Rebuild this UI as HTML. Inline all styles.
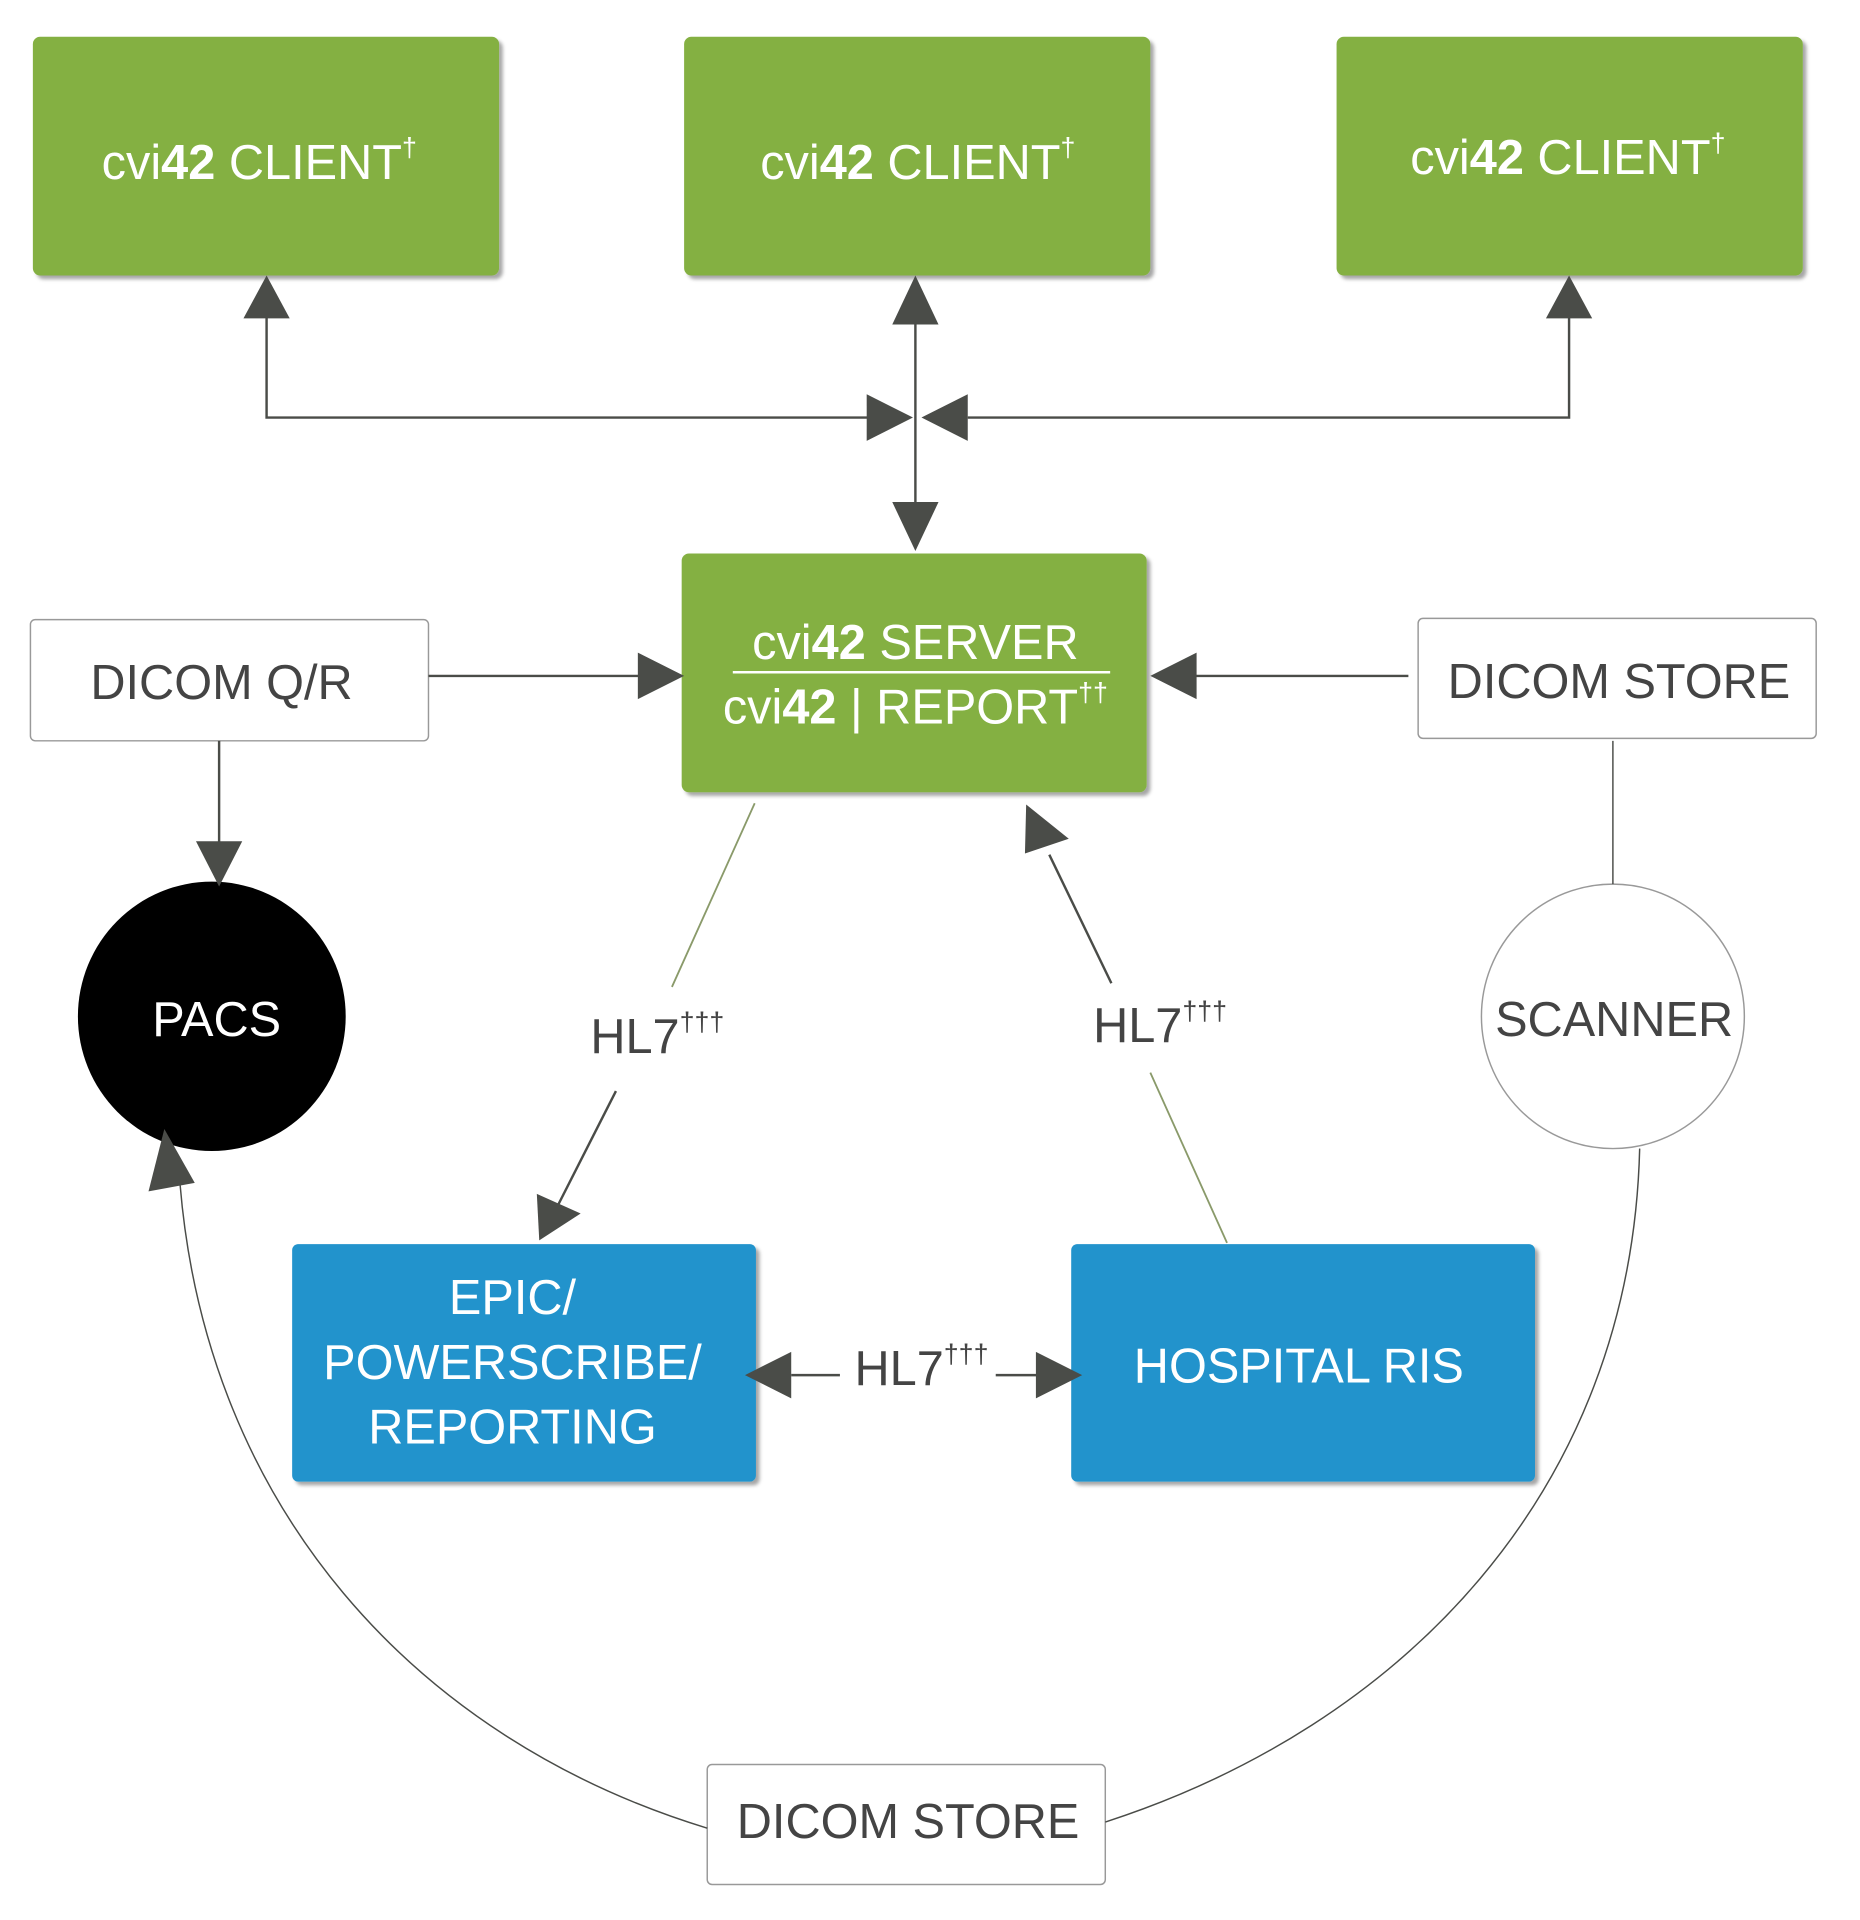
<!DOCTYPE html>
<html><head><meta charset="utf-8"><style>html,body{margin:0;padding:0;background:#fff}svg{display:block}</style></head>
<body>
<svg width="1860" height="1920" viewBox="0 0 1528 1568" preserveAspectRatio="none" xmlns="http://www.w3.org/2000/svg" font-family="Liberation Sans, sans-serif">
<defs>
<filter id="sh" x="-5%" y="-5%" width="115%" height="115%"><feDropShadow dx="3" dy="3" stdDeviation="1.5" flood-color="#000" flood-opacity="0.35"/></filter>
</defs>
<g fill="#84b042" filter="url(#sh)">
<rect x="27" y="30" width="383" height="195" rx="6"/>
<rect x="562" y="30" width="383" height="195" rx="6"/>
<rect x="1098" y="30" width="383" height="195" rx="6"/>
<rect x="560" y="452" width="382" height="195" rx="6"/>
</g>
<g fill="#2193cc" filter="url(#sh)">
<rect x="240" y="1016" width="381" height="194" rx="5"/>
<rect x="880" y="1016" width="381" height="194" rx="5"/>
</g>
<g fill="#fff" font-size="40" text-anchor="middle">
<text x="213" y="146">cvi<tspan font-weight="bold">42</tspan> CLIENT<tspan font-size="22" dy="-18">†</tspan></text>
<text x="754" y="146">cvi<tspan font-weight="bold">42</tspan> CLIENT<tspan font-size="22" dy="-18">†</tspan></text>
<text x="1288" y="142">cvi<tspan font-weight="bold">42</tspan> CLIENT<tspan font-size="22" dy="-18">†</tspan></text>
<text x="752" y="538">cvi<tspan font-weight="bold">42</tspan> SERVER</text>
<text x="752" y="591">cvi<tspan font-weight="bold">42</tspan> | REPORT<tspan font-size="22" dy="-18">††</tspan></text>
<text x="421" y="1073">EPIC/</text>
<text x="421" y="1126">POWERSCRIBE/</text>
<text x="421" y="1179">REPORTING</text>
<text x="1067" y="1129">HOSPITAL RIS</text>
</g>
<line x1="602" y1="549" x2="912" y2="549" stroke="#fff" stroke-width="2"/>
<g fill="#fff" stroke="#999" stroke-width="1.2">
<rect x="25" y="506" width="327" height="99" rx="4"/>
<rect x="1165" y="505" width="327" height="98" rx="4"/>
<rect x="581" y="1441" width="327" height="98" rx="4"/>
<circle cx="1325" cy="830" r="108"/>
</g>
<circle cx="174" cy="830" r="110" fill="#000"/>
<g fill="#444" font-size="40" text-anchor="middle">
<text x="182" y="571">DICOM Q/R</text>
<text x="1330" y="570">DICOM STORE</text>
<text x="746" y="1501">DICOM STORE</text>
<text x="1326" y="846">SCANNER</text>
<text x="540" y="860">HL7<tspan font-size="22" dy="-18">†††</tspan></text>
<text x="953" y="851">HL7<tspan font-size="22" dy="-18">†††</tspan></text>
<text x="757" y="1131">HL7<tspan font-size="22" dy="-18">†††</tspan></text>
</g>
<text x="178" y="846" fill="#fff" font-size="40" text-anchor="middle">PACS</text>
<g stroke="#4a4c48" stroke-width="2" fill="none">
<polyline points="219,258 219,341 714,341"/>
<polyline points="1289,258 1289,341 795,341"/>
<line x1="752" y1="262" x2="752" y2="414"/>
<line x1="352" y1="552" x2="526" y2="552"/>
<line x1="1157" y1="552" x2="982" y2="552"/>
<line x1="180" y1="605" x2="180" y2="690"/>
<line x1="506" y1="891" x2="458" y2="985"/>
<line x1="913" y1="803" x2="862" y2="698"/>
<line x1="650" y1="1123" x2="690" y2="1123"/>
<line x1="818" y1="1123" x2="852" y2="1123"/>
</g>
<g stroke="#8a9a6a" stroke-width="1.5">
<line x1="620" y1="656" x2="552" y2="806"/>
<line x1="1008" y1="1015" x2="945" y2="876"/>
</g>
<g stroke="#4a4c48" stroke-width="1.2" fill="none">
<line x1="1325" y1="605" x2="1325" y2="722"/>
<path d="M908,1488 C1150,1410 1340,1220 1347,938"/>
<path d="M581,1493 C340,1420 170,1230 148,968"/>
</g>
<g fill="#4a4c48">
<polygon points="219,225 200,260 238,260"/>
<polygon points="752,225 733,265 771,265"/>
<polygon points="1289,225 1270,260 1308,260"/>
<polygon points="750,341 712,322 712,360"/>
<polygon points="757,341 795,322 795,360"/>
<polygon points="752,450 733,410 771,410"/>
<polygon points="562,552 524,533 524,571"/>
<polygon points="945,552 983,533 983,571"/>
<polygon points="180,724 161,687 199,687"/>
<polygon points="443,1013 441,975 477,991"/>
<polygon points="843,657 842,697 878,685"/>
<polygon points="612,1123 650,1104 650,1142"/>
<polygon points="889,1123 851,1104 851,1142"/>
<polygon points="135,922 122,973 160,966"/>
</g>
</svg>
</body></html>
